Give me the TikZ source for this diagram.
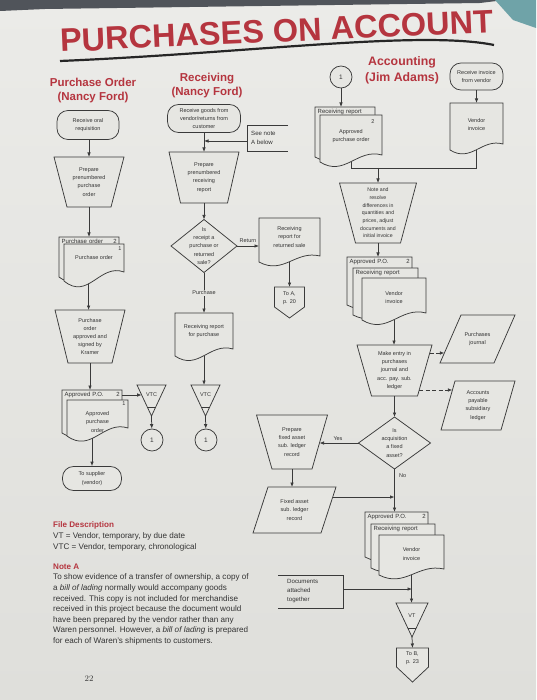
\documentclass[tikz,border=0pt]{standalone}
\usepackage{fontspec}
\setsansfont{Liberation Sans}
\usetikzlibrary{arrows.meta}
\definecolor{pg}{HTML}{E6E6E2}
\definecolor{lnc}{HTML}{3A3A3A}
\definecolor{rd}{HTML}{B5353F}
\definecolor{txc}{HTML}{333333}
\definecolor{bgtop}{HTML}{EBEBE8}
\definecolor{bgbot}{HTML}{DFDFDB}
\definecolor{darkc}{HTML}{50545A}
\definecolor{tealc}{HTML}{6FA3A8}
\newcommand{\docgap}{\hskip 0pt plus 1fill\relax}
\tikzset{
  shp/.style={draw=lnc, line width=0.75pt, fill=pg},
  txt/.style={font=\sffamily\fontsize{5.5}{8.2}\selectfont, text=txc, align=center, inner sep=0pt},
  hdr/.style={font=\sffamily\fontsize{6}{7}\selectfont, text=txc, align=left, inner sep=0pt},
  ann/.style={font=\sffamily\fontsize{6.1}{8.6}\selectfont, text=txc, align=left, inner sep=0pt},
  arr/.style={draw=lnc, line width=0.75pt, -{Latex[length=4.5pt,width=3.6pt]}},
  dsh/.style={arr, dash pattern=on 4pt off 2.5pt},
  plain/.style={draw=lnc, line width=0.75pt},
  term/.style={shp, txt, rounded corners=11pt},
  circ/.style={shp, txt, circle, minimum size=22pt, font=\sffamily\fontsize{6.5}{8}\selectfont},
  head/.style={font=\sffamily\bfseries\fontsize{11.5}{14}\selectfont, text=rd, align=center, inner sep=0pt},
  lbl/.style={txt, fill=pg, inner sep=1pt},
  notetxt/.style={anchor=north west, align=left, inner sep=0pt, text=txc},
  ttlword/.style={font=\sffamily\bfseries\fontsize{32.5}{36}\selectfont, text=rd, rotate=2.5, anchor=base, inner sep=0pt},
}
% manual operation (trapezoid)
\newcommand{\MOp}[8]{%
  \draw[shp] ({#2-#5},#3) -- ({#2+#5},#3) -- ({#2+#6},#4) -- ({#2-#6},#4) -- cycle;
  \node[txt,#7] (#1) at (#2,{(#3+#4)/2}) {#8};
  \coordinate (#1-t) at (#2,#3);
  \coordinate (#1-b) at (#2,#4);
}
% front document
\newcommand{\DocA}[8]{%
  \draw[shp] (#2,#3) -- (#4,#3) -- (#4,{#5-#6}) .. controls ({#2+0.6*(#4-#2)},{#5-2*#6}) and ({#2+0.4*(#4-#2)},{#5+2.2*#6}) .. (#2,#5) -- cycle;
  \node[txt] (#1) at ({(#2+#4)/2},#7) {#8};
  \coordinate (#1-t) at ({(#2+#4)/2},#3);
  \coordinate (#1-l) at (#2,#3);
  \coordinate (#1-b) at ({(#2+#4)/2},#5);
  \coordinate (#1-bl) at ({#2+0.41*(#4-#2)},{#5+0.31*#6});
}
% back document with header
\newcommand{\DocB}[7]{%
  \draw[shp] (#2,#3) -- (#4,#3) -- (#4,{#5-#6}) .. controls ({#2+0.6*(#4-#2)},{#5-2*#6}) and ({#2+0.4*(#4-#2)},{#5+2.2*#6}) .. (#2,#5) -- cycle;
  \pgfmathsetmacro{\dbw}{#4-#2-5}
  \node[hdr, anchor=north west, text width=\dbw pt] (#1) at ({#2+2.5},{#3+1.8}) {#7};
  \coordinate (#1-t) at ({(#2+#4)/2},#3);
  \coordinate (#1-e) at (#4,{#3+5});
}
% parallelogram
\newcommand{\Para}[8]{%
  \draw[shp] (#4,#2) -- (#5,#2) -- (#7,#3) -- (#6,#3) -- cycle;
  \node[txt] (#1) at ({(#4+#5+#6+#7)/4},{(#2+#3)/2}) {#8};
  \coordinate (#1-t) at ({(#4+#5)/2},#2);
}
% decision
\newcommand{\Dia}[6]{%
  \draw[shp] (#2,{#3-#5}) -- ({#2+#4},#3) -- (#2,{#3+#5}) -- ({#2-#4},#3) -- cycle;
  \node[txt] (#1) at (#2,#3) {#6};
  \coordinate (#1-n) at (#2,{#3-#5});
  \coordinate (#1-s) at (#2,{#3+#5});
  \coordinate (#1-e) at ({#2+#4},#3);
  \coordinate (#1-w) at ({#2-#4},#3);
}
% file triangle
\newcommand{\FTri}[8]{%
  \draw[shp] ({#2-#4},#3) -- ({#2+#4},#3) -- (#2,#5) -- cycle;
  \draw[plain] ({#2-#4*(#5-#6)/(#5-#3)},#6) -- ({#2+#4*(#5-#6)/(#5-#3)},#6);
  \node[txt] (#1) at (#2,#7) {#8};
  \coordinate (#1-t) at (#2,#3);
  \coordinate (#1-b) at (#2,#5);
  \coordinate (#1-w) at ({#2-#4*(#5-#7)/(#5-#3)},#7);
}
% off-page connector
\newcommand{\OffP}[7]{%
  \draw[shp] ({#2-#4},#3) -- ({#2+#4},#3) -- ({#2+#4},#5) -- (#2,#6) -- ({#2-#4},#5) -- cycle;
  \node[txt] (#1) at (#2,{(#3+#5)/2+1}) {#7};
  \coordinate (#1-t) at (#2,#3);
}
\begin{document}
\begin{tikzpicture}[x=1pt,y=-1pt]
\useasboundingbox (0,0) rectangle (536,700);
\shade[top color=bgtop, bottom color=bgbot] (0,0) rectangle (536,700);
\fill[darkc] (0,0) -- (505,0) -- (480,3) -- (45,9) -- (0,11) -- cycle;
\fill[tealc] (495,0) -- (536,0) -- (536,28) -- (513,20) -- cycle;

% title (three words along a slightly rising baseline)
\node[ttlword] (ttl1) at (162.5,47.5) {PURCHASES};
\node[ttlword] (ttl2) at (297.8,41.4) {ON};
\node[ttlword] (ttl3) at (412.3,36.2) {ACCOUNT};
\draw[line width=2.2pt, draw=black!85] (60,61) .. controls (250,53) and (420,30) .. (494,45);

% headers
\node[head] (h1) at (93,91) {Purchase Order\\(Nancy Ford)};
\node[head] (h2) at (207,85.5) {Receiving\\(Nancy Ford)};
\node[head, font=\sffamily\bfseries\fontsize{12.3}{15.5}\selectfont] (h3) at (402,70.5) {Accounting\\(Jim Adams)};

% ---------- column 1 ----------
\node[term, minimum width=62pt, minimum height=29pt] (t1) at (88,125) {Receive oral\\requisition};
\MOp{m1}{89}{157}{207}{35}{22}{}{Prepare\\prenumbered\\purchase\\order}
\DocB{d1a}{59}{237}{119}{277}{8}{Purchase order\docgap 2}
\DocA{d1}{64}{244}{124}{281}{9}{258}{Purchase order}
\node[txt] (d1n) at (120,249) {1};
\MOp{m2}{90}{310}{363}{35}{22}{}{Purchase\\order\\approved and\\signed by\\Kramer}
\DocB{d2a}{62}{390}{122}{433}{7}{Approved P.O.\docgap 2}
\DocA{d2}{67}{400}{128}{436}{8}{422}{Approved\\purchase\\order}
\node[txt] (d2n) at (124,404) {1};
\FTri{v1}{151.5}{385}{14.5}{416}{407}{395}{VTC}
\node[circ] (c1) at (152,440) {1};
\node[term, minimum width=59pt, minimum height=24pt] (t2) at (92,478.5) {To supplier\\(vendor)};

\draw[arr] (t1.south -| m1-t) -- (m1-t);
\draw[arr] (m1-b) -- (m1-b |- d1a-t);
\draw[arr] (d1-bl) -- (d1-bl |- m2-t);
\draw[arr] (m2-b) -- (m2-b |- d2a-t);
\draw[arr] (d2a-e) -- (v1-w);
\draw[arr] (v1-b) -- (c1);
\draw[arr] (d2-bl) -- (d2-bl |- t2.north);

% ---------- column 2 ----------
\node[term, minimum width=73pt, minimum height=28pt] (t3) at (204,118.5) {Receive goods from\\vendor/returns from\\customer};
\draw[plain] (288,125) -- (247,125) -- (247,151) -- (288,151);
\node[ann, anchor=west] (na) at (251,138) {See note\\A below};
\coordinate (na-w) at (247,141);
\MOp{m3}{204}{152}{203}{35}{23.5}{}{Prepare\\prenumbered\\receiving\\report}
\Dia{q1}{204}{246}{33}{26.5}{Is\\receipt a\\purchase or\\returned\\sale?}
\DocA{d3}{259}{218}{320}{262}{6}{237}{Receiving\\report for\\returned sale}
\OffP{op1}{289.5}{287}{15}{307}{318}{To A,\\p. 20}
\DocA{d4}{175}{313}{233}{356}{7}{331}{Receiving report\\for purchase}
\FTri{v2}{205.5}{385}{14.5}{416}{407}{395}{VTC}
\node[circ] (c2) at (206,440) {1};

\draw[arr] (t3) -- (m3-t);
\draw[arr] (na-w) -- (na-w -| t3);
\draw[arr] (m3-b) -- (q1-n);
\draw[arr] (q1-e) -- (q1-e -| d3-l);
\node[txt, anchor=south west] (ret) at (239.5,243) {Return};
\draw[arr] (d3-b) -- (op1-t);
\draw[arr] (q1-s) -- (q1-s |- d4-t);
\node[lbl] (pur) at (204,293) {Purchase};
\draw[arr] (d4-b) -- (d4-b |- v2-t);
\draw[arr] (v2-b) -- (c2);

% ---------- accounting ----------
\node[circ] (c3) at (341,77) {1};
\DocB{d5a}{315}{107}{375}{157}{6}{Receiving report}
\DocA{d5}{320}{115}{382}{162}{7}{136}{Approved\\purchase order}
\node[txt] (d5n) at (373,122) {2};
\node[term, minimum width=53pt, minimum height=27pt] (t4) at (476.5,76.5) {Receive invoice\\from vendor};
\DocA{d6}{450}{103}{503}{150}{6}{124.5}{Vendor\\invoice}
\coordinate (mg) at (378,168);
\MOp{m4}{378}{183}{243}{38.5}{22.5}{font=\sffamily\fontsize{5.2}{7.7}\selectfont}{Note and\\resolve\\differences in\\quantities and\\prices, adjust\\documents and\\initial invoice}
\DocB{d7a}{347}{257}{412}{305}{6}{Approved P.O.\docgap 2}
\DocB{d7m}{353}{268}{418}{315}{6}{Receiving report}
\DocA{d7}{362}{278}{426}{320}{7}{297.5}{Vendor\\invoice}
\MOp{m5}{394.5}{345}{396}{37.5}{23}{}{Make entry in\\purchases\\journal and\\acc. pay. sub.\\ledger}
\coordinate (m5-r1) at (429.7,353);
\coordinate (m5-r2) at (419.2,390);
\Para{pj}{315}{363}{461}{515}{440}{494}{Purchases\\journal}
\coordinate (pj-w) at (444.4,353);
\Para{ap}{381}{430}{455}{515}{441}{501}{Accounts\\payable\\subsidiary\\ledger}
\coordinate (ap-w) at (452.4,390);
\Dia{q2}{394.5}{443}{36}{26}{Is\\acquisition\\a fixed\\asset?}
\MOp{m6}{292}{415}{469}{35.5}{20}{}{Prepare\\fixed asset\\sub. ledger\\record}
\coordinate (m6-r) at (319.5,443);
\Para{p1}{487}{533}{268}{336}{253}{321}{Fixed asset\\sub. ledger\\record}
\coordinate (p1-e) at (332.7,497);
\DocB{d8a}{365}{512}{428}{557}{6}{Approved P.O.\docgap 2}
\DocB{d8m}{371}{524}{435}{568}{6}{Receiving report}
\DocA{d8}{379}{535}{444}{575}{6}{554}{Vendor\\invoice}
\draw[plain] (278,575) -- (343,575) -- (343,608) -- (278,608);
\node[ann, anchor=west] (nb) at (287,591) {Documents\\attached\\together};
\coordinate (nb-e) at (343,589);
\FTri{vt}{412}{603}{16}{637}{628}{616}{VT}
\OffP{op2}{412.5}{648}{16}{667}{682}{To B,\\p. 23}

\draw[arr] (c3) -- (c3 |- d5a-t);
\draw[arr] (t4) -- (d6-t);
\draw[plain] (d5-b) |- (d6-b |- mg) -- (d6-b);
\draw[arr] (mg) -- (m4-t);
\draw[arr] (m4-b) -- (m4-b |- d7a-t);
\draw[arr] (d7-b) -- (d7-b |- m5-t);
\draw[dsh] (m5-r1) -- (pj-w);
\draw[dsh] (m5-r2) -- (ap-w);
\draw[arr] (m5-b) -- (q2-n);
\draw[arr] (q2-w) -- (m6-r);
\node[txt, anchor=south] (yes) at (338,441) {Yes};
\draw[arr] (m6-b) -- (m6-b |- p1-t);
\draw[arr] (p1-e) -- (p1-e -| q2-s);
\draw[arr] (q2-s) -- (q2-s |- d8a-t);
\node[txt, anchor=north west] (no) at (399,474) {No};
\draw[arr] (d8-b) -- (d8-b |- vt-t);
\draw[arr] (nb-e) -- (nb-e -| vt-t);
\draw[arr] (vt-b) -- (op2-t);

% ---------- notes ----------
\node[notetxt, font=\sffamily\fontsize{8.1}{11}\selectfont] (fd) at (53,521.5) {\textcolor{rd}{\bfseries File Description}\\VT = Vendor, temporary, by due date\\VTC = Vendor, temporary, chronological};
\node[notetxt, font=\sffamily\fontsize{8.1}{10.6}\selectfont] (notea) at (53,563.5) {\textcolor{rd}{\bfseries Note A}\\To show evidence of a transfer of ownership, a copy of\\a \textit{bill of lading} normally would accompany goods\\received. This copy is not included for merchandise\\received in this project because the document would\\have been prepared by the vendor rather than any\\Waren personnel. However, a \textit{bill of lading} is prepared\\for each of Waren's shipments to customers.};
\node[font=\rmfamily\fontsize{8.5}{10}\selectfont, text=txc] (pn) at (89,679) {22};
\end{tikzpicture}
\end{document}
